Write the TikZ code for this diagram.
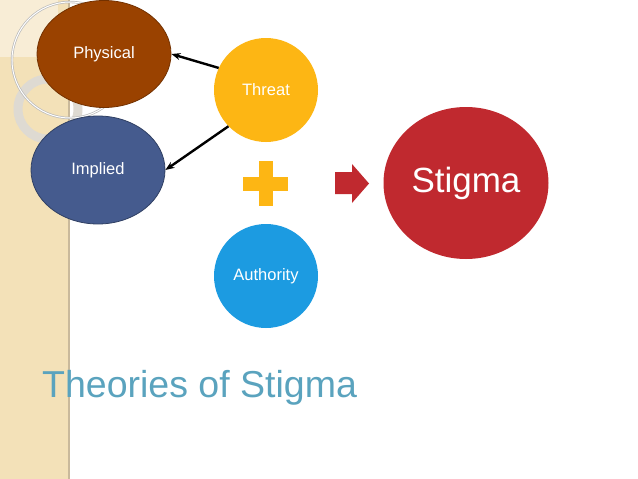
\documentclass[tikz,border=0pt]{standalone}
\usepackage{fontspec}
\setmainfont{Liberation Sans}
\usetikzlibrary{shapes.geometric, arrows.meta}

\definecolor{bandtan}{HTML}{F3E1B8}
\definecolor{bandlight}{HTML}{F8EDD6}
\definecolor{bandline}{HTML}{C9B99B}
\definecolor{ringgray}{HTML}{DEDAD2}
\definecolor{physbrown}{HTML}{9A4200}
\definecolor{implblue}{HTML}{455B8E}
\definecolor{threatyellow}{HTML}{FDB614}
\definecolor{authblue}{HTML}{1C9BE1}
\definecolor{stigmared}{HTML}{C0292F}
\definecolor{titleblue}{HTML}{5AA3BE}

\begin{document}
\begin{tikzpicture}[x=1pt, y=-1pt,
    tagtext/.style={text=white, font=\fontsize{16.5}{20}\selectfont},
    oval/.style={ellipse, draw, line width=0.8pt, minimum width=134pt, minimum height=107pt, tagtext},
    disc/.style={circle, minimum size=104pt, tagtext},
    link/.style={-{Stealth[length=9pt, width=7pt]}, line width=2.4pt}]
    \useasboundingbox (0,0) rectangle (638,479);

    % Draw background
    \fill[white] (0,0) rectangle (638,479);
    \fill[bandtan] (0,0) rectangle (69,479);
    \fill[bandlight] (0,0) rectangle (58,57);
    \draw[bandline, line width=2pt] (69,0) -- (69,479);
    \draw[ringgray, line width=9pt] (48,109) circle (30);
    \draw[gray!55, line width=2.4pt] (70,60) circle (58);
    \draw[white, line width=1pt] (70,60) circle (58);

    % Draw nodes
    \node[oval, fill=physbrown, draw=physbrown!75!black] (physical) at (104,54) {Physical};
    \node[oval, fill=implblue, draw=implblue!70!black, minimum height=108pt] (implied) at (98,170) {Implied};
    \node[disc, fill=threatyellow] (threat) at (266,90) {Threat};
    \node[disc, fill=authblue] (authority) at (266,276) {Authority};
    \node[ellipse, fill=stigmared, minimum width=165pt, minimum height=152pt, text=white,
          font=\fontsize{35}{40}\selectfont] (stigma) at (466,183) {Stigma};

    % Draw plus and block arrow
    \fill[threatyellow] (259,161) rectangle (273,206);
    \fill[threatyellow] (243,177) rectangle (288,191);
    \fill[stigmared] (335,172) -- (352,172) -- (352,164) -- (369,183.5)
        -- (352,203) -- (352,194) -- (335,194) -- cycle;

    % Draw connections
    \draw[link] (threat.155) -- (physical.east);
    \draw[link] (threat.224) -- (implied.east);

    % Title
    \node[anchor=base west, inner sep=0pt, text=titleblue,
          font=\fontsize{37.5}{44}\selectfont] (title) at (42,397) {Theories of Stigma};
\end{tikzpicture}
\end{document}
